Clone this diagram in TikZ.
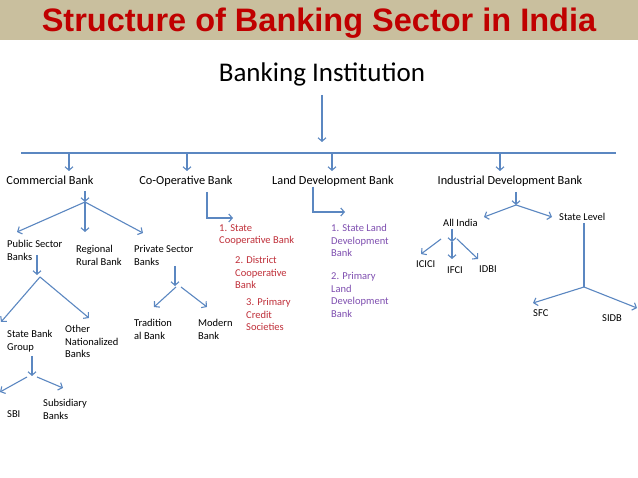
\documentclass[tikz,border=0pt]{standalone}
\usepackage{fontspec}
\setmainfont{Carlito}
\newfontfamily\titlefont{Liberation Sans}
\usetikzlibrary{arrows.meta}
\definecolor{band}{HTML}{C9BF9E}
\definecolor{titlered}{HTML}{C00000}
\definecolor{ln}{HTML}{5B87C1}
\definecolor{redtxt}{HTML}{C0303A}
\definecolor{purp}{HTML}{7F4FB0}
\tikzset{
  conn/.style={draw=ln, line width=1.1pt},
  arr/.style={conn, -{Straight Barb[length=3.5pt,width=8pt,line width=1.1pt]}},
  mainlbl/.style={font=\fontsize{12.3}{14}\selectfont, anchor=base, inner sep=0},
  lbl/.style={font=\fontsize{10.5}{12.7}\selectfont, align=left, inner sep=0, anchor=north west},
  redlbl/.style={lbl, text=redtxt},
  purplbl/.style={lbl, text=purp}
}
\begin{document}
\begin{tikzpicture}[x=1pt,y=-1pt]
\useasboundingbox (0,0) rectangle (638,478);
\fill[white] (0,0) rectangle (638,478);
\fill[band] (0,0) rectangle (638,40);
\node[font=\titlefont\bfseries\fontsize{32.5}{36}\selectfont, text=titlered, anchor=base, inner sep=0] (title) at (319,31.5) {Structure of Banking Sector in India};
\node[font=\fontsize{27}{30}\selectfont, anchor=base, inner sep=0] (inst) at (322,82) {Banking Institution};

% top level
\coordinate (instb) at (322,95);
\coordinate (instt) at (322,142);
\draw[arr] (instb) -- (instt);
\coordinate (busL) at (21,153);
\coordinate (busR) at (616,153);
\draw[conn] (busL) -- (busR);

\node[mainlbl] (comm) at (50,185) {Commercial Bank};
\node[mainlbl] (coop) at (186,185) {Co-Operative Bank};
\node[mainlbl] (land) at (333,185) {Land Development Bank};
\node[mainlbl] (ind) at (510,185) {Industrial Development Bank};

\foreach \n/\x in {d1/69,d2/187,d3/332,d4/500}{
  \coordinate (\n a) at (\x,153);
  \coordinate (\n b) at (\x,171);
  \draw[arr] (\n a) -- (\n b);
}

% commercial
\coordinate (cm0) at (85,191);
\coordinate (cm1) at (85,202);
\draw[arr] (cm0) -- (cm1);
\coordinate (cmL) at (17,232);
\coordinate (cmM) at (85,232);
\coordinate (cmR) at (143,233);
\draw[arr] (cm1) -- (cmL);
\draw[arr] (cm1) -- (cmM);
\draw[arr] (cm1) -- (cmR);

\node[lbl] (pub) at (7,240) {Public Sector\\Banks};
\node[lbl] (rrb) at (76,245) {Regional\\Rural Bank};
\node[lbl] (priv) at (134,245) {Private Sector\\Banks};

% public sector
\coordinate (pb0) at (37,255);
\coordinate (pb1) at (37,275);
\draw[arr] (pb0) -- (pb1);
\coordinate (pb2) at (40,277);
\coordinate (pbL) at (1,322);
\coordinate (pbR) at (89,318);
\draw[arr] (pb2) -- (pbL);
\draw[arr] (pb2) -- (pbR);
\node[lbl] (sbg) at (7,330) {State Bank\\Group};
\node[lbl] (onb) at (65,325) {Other\\Nationalized\\Banks};

% state bank group
\coordinate (sg0) at (32,356);
\coordinate (sg1) at (32,376);
\draw[arr] (sg0) -- (sg1);
\coordinate (sg2) at (27,377);
\coordinate (sg3) at (37,377);
\coordinate (sgL) at (0,392);
\coordinate (sgR) at (63,388);
\draw[arr] (sg2) -- (sgL);
\draw[arr] (sg3) -- (sgR);
\node[lbl] (sbi) at (7,410) {SBI};
\node[lbl] (sub) at (43,399) {Subsidiary\\Banks};

% private sector
\coordinate (pv0) at (175,266);
\coordinate (pv1) at (175,286);
\draw[arr] (pv0) -- (pv1);
\coordinate (pv2) at (176,287);
\coordinate (pv3) at (181,287);
\coordinate (pvL) at (154,307);
\coordinate (pvR) at (207,307);
\draw[arr] (pv2) -- (pvL);
\draw[arr] (pv3) -- (pvR);
\node[lbl] (trad) at (134,319) {Tradition\\al Bank};
\node[lbl] (mod) at (198,319) {Modern\\Bank};

% co-operative
\coordinate (co0) at (207,192);
\coordinate (co1) at (207,218);
\coordinate (co2) at (233,218);
\draw[arr] (co0) -- (co1) -- (co2);
\node[redlbl] (scb) at (219,224) {1. State\\Cooperative Bank};
\node[redlbl] (dcb) at (235,256) {2. District\\Cooperative\\Bank};
\node[redlbl] (pcs) at (246,298) {3. Primary\\Credit\\Societies};

% land development
\coordinate (ld0) at (313,187);
\coordinate (ld1) at (313,212);
\coordinate (ld2) at (345,212);
\draw[arr] (ld0) -- (ld1) -- (ld2);
\node[purplbl] (sldb) at (331,224) {1. State Land\\Development\\Bank};
\node[purplbl] (pldb) at (331,272) {2. Primary\\Land\\Development\\Bank};

% industrial
\coordinate (id0) at (516,192);
\coordinate (id1) at (516,205);
\draw[arr] (id0) -- (id1);
\coordinate (idL) at (484,217);
\coordinate (idR) at (552,217);
\draw[arr] (id1) -- (idL);
\draw[arr] (id1) -- (idR);
\node[lbl] (alli) at (443,219) {All India};
\node[lbl] (stl) at (559,213) {State Level};

\coordinate (ai0) at (452,229);
\coordinate (ai1) at (452,242);
\coordinate (ai2) at (452,259);
\draw[arr] (ai0) -- (ai1);
\draw[arr] (ai1) -- (ai2);
\coordinate (ai3) at (441,239);
\coordinate (aiL) at (421,254);
\coordinate (ai4) at (457,239);
\coordinate (aiR) at (478,259);
\draw[arr] (ai3) -- (aiL);
\draw[arr] (ai4) -- (aiR);
\node[lbl] (icici) at (416,260) {ICICI};
\node[lbl] (ifci) at (447,266) {IFCI};
\node[lbl] (idbi) at (479,266) {IDBI};

\coordinate (sl0) at (584,223);
\coordinate (sl1) at (584,287);
\draw[conn] (sl0) -- (sl1);
\coordinate (slL) at (533,303);
\coordinate (slR) at (637,308);
\draw[arr] (sl1) -- (slL);
\draw[arr] (sl1) -- (slR);
\node[lbl] (sfc) at (533,309) {SFC};
\node[lbl] (sidb) at (602,314) {SIDB};
\end{tikzpicture}
\end{document}
